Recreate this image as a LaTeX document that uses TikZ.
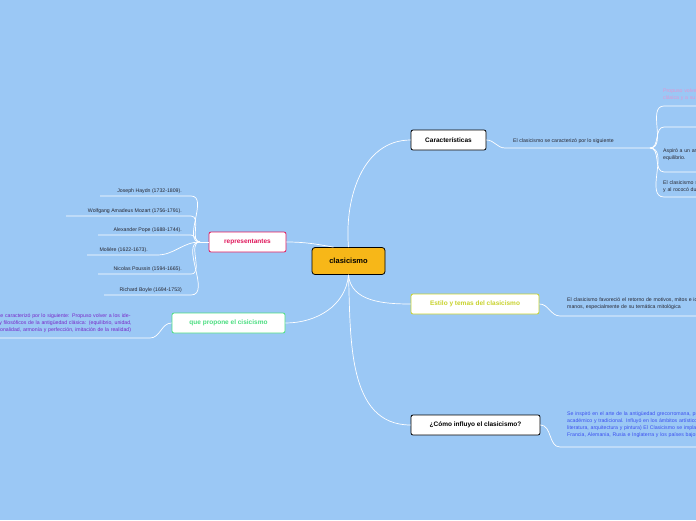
\documentclass[tikz,border=0pt]{standalone}
\usepackage{fontspec}
\setmainfont{Liberation Sans}
\begin{document}
\begin{tikzpicture}[x=1pt,y=-1pt,
  topic/.style={draw=black,fill=white,rounded corners=2pt,line width=0.8pt,font=\bfseries\fontsize{6.5}{8}\selectfont,minimum height=20pt,inner xsep=6pt},
  leaf/.style={font=\fontsize{5.2}{7}\selectfont,inner sep=1pt,align=left,text={rgb,255:red,40;green,40;blue,50}},
  conn/.style={draw=white,line width=0.7pt}]
\clip (0,0) rectangle (696,520);
\fill[color={rgb,255:red,155;green,200;blue,245}] (0,0) rectangle (696,520);
% central
\node[draw=black,fill={rgb,255:red,247;green,183;blue,24},rounded corners=3pt,line width=0.8pt,minimum width=73pt,minimum height=27pt,font=\bfseries\fontsize{7.5}{9}\selectfont] (c) at (348.5,261) {clasicismo};
\node[topic,minimum width=75pt] (car) at (448.5,140) {Características};
\node[topic,draw={rgb,255:red,224;green,24;blue,92},text={rgb,255:red,224;green,24;blue,92},minimum width=77pt] (rep) at (247.5,242) {representantes};
\node[topic,draw={rgb,255:red,74;green,222;blue,128},text={rgb,255:red,74;green,222;blue,128},minimum width=113pt] (que) at (228.5,323) {que propone el cisicismo};
\node[topic,draw={rgb,255:red,200;green,210;blue,44},text={rgb,255:red,200;green,210;blue,44},minimum width=128pt] (est) at (475,304) {Estilo y temas del clasicismo};
\node[topic,minimum width=129pt] (com) at (475.5,425) {¿Cómo influyo el clasicismo?};
\draw[conn] (c.north) to[out=95,in=180] (car.west);
\draw[conn] (c.south) to[out=-85,in=180] (est.west);
\draw[conn] (c.south) to[out=-88,in=180] (com.west);
\draw[conn] ([xshift=-15pt]c.north) to[out=170,in=0] (rep.east);
\draw[conn] (c.south) to[out=265,in=0] (que.east);
% Caracteristicas
\node[leaf,anchor=west] (cs) at (512,141) {El clasicismo se caracterizó por lo siguiente};
\coordinate (cj) at (650,148);
\draw[conn] (car.east) to[out=0,in=180] (505,148) -- (cj);
\node[leaf,anchor=west,text={rgb,255:red,225;green,150;blue,210},text width=80pt] (c1) at (662,95) {Propuso volver a la antigüedad clásica y a su racionalidad};
\node[leaf,anchor=west,text width=80pt] (c2) at (662,155) {Aspiró a un arte claro y sobrio, de equilibrio.};
\node[leaf,anchor=west,text width=80pt] (c3) at (662,187) {El clasicismo se opuso al barroco y al rococó durante el siglo XVIII};
\draw[conn] (cj) to[out=0,in=180] (664,106) -- (700,106);
\draw[conn] (cj) to[out=0,in=180] (664,127) -- (700,127);
\draw[conn] (cj) to[out=0,in=180] (664,172) -- (700,172);
\draw[conn] (cj) to[out=0,in=180] (664,197) -- (700,197);
% representantes
\coordinate (rj) at (200,242);
\draw[conn] (rep.west) -- (rj);
\foreach \y/\n/\x/\lx in {
 192/Joseph Haydn (1732-1809)./183/100,
 212/Wolfgang Amadeus Mozart (1756-1791)./183/66,
 231/Alexander Pope (1688-1744)./183/98,
 251/Molière (1622-1673)./149/87,
 270/Nicolas Poussin (1594-1665)./183/98,
 291/Richard Boyle (1694-1753)/183/104}{
 \node[leaf,anchor=south east] at (\x,\y+3) {\n};
 \draw[conn] (rj) to[out=180,in=0] (\x+8,\y+4) -- (\lx,\y+4);}
% que propone
\node[leaf,anchor=east,text={rgb,255:red,120;green,40;blue,200},text width=175pt] (q1) at (142,323) {El clasicismo se caracterizó por lo siguiente: Propuso volver a los ideales estéticos y filosóficos de la antigüedad clásica: (equilibrio, unidad, sobriedad, racionalidad, armonía y perfección, imitación de la realidad)};
\draw[conn] (que.west) to[out=180,in=0] (150,338) -- (-5,338);
% estilo
\node[leaf,anchor=west,text width=175pt] (e1) at (566,304) {El clasicismo favoreció el retorno de motivos, mitos e ideales grecorromanos, especialmente de su temática mitológica};
\draw[conn] (est.east) to[out=0,in=180] (560,316) -- (700,316);
% como
\node[leaf,anchor=west,text={rgb,255:red,60;green,80;blue,240},text width=165pt] (m1) at (566,425) {Se inspiró en el arte de la antigüedad grecorromana, profundamente académico y tradicional. Influyó en los ámbitos artísticos (música, literatura, arquitectura y pintura) El Clasicismo se implantó en Italia, Francia, Alemania, Rusia e Inglaterra y los países bajos};
\draw[conn] (com.east) to[out=0,in=180] (560,447) -- (700,447);
\end{tikzpicture}
\end{document}
